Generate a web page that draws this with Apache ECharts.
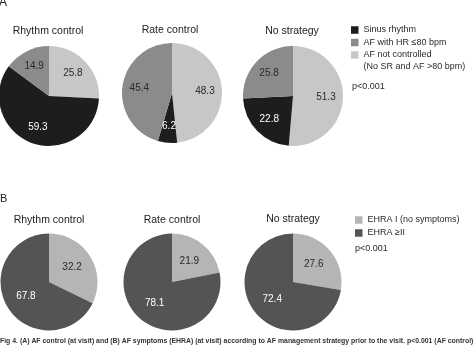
<!DOCTYPE html>
<html>
<head>
<meta charset="utf-8">
<script src="https://cdn.jsdelivr.net/npm/echarts@6/dist/echarts.min.js"></script>
<style>
  html, body { margin: 0; padding: 0; background: #fff; }
  #chart { width: 474px; height: 345px; }
</style>
</head>
<body>
<div id="chart"></div>
<script>
// Management strategy before the visit (one pie per strategy)
const strategies = ['Rhythm control', 'Rate control', 'No strategy'];

// Panel A: AF control at the visit (%), listed clockwise from 12 o'clock
const controlNames = ['AF not controlled', 'Sinus rhythm', 'AF with HR ≤80 bpm'];
const notControlled = [25.8, 48.3, 51.3];
const sinusRhythm = [59.3, 6.2, 22.8];
const rateControlled = [14.9, 45.4, 25.8];
const controlLegendOrder = ['Sinus rhythm', 'AF with HR ≤80 bpm', 'AF not controlled'];

// Panel B: AF symptoms (EHRA class) at the visit (%)
const symptomNames = ['EHRA I (no symptoms)', 'EHRA ≥II'];
const ehraOne = [32.2, 21.9, 27.6];
const ehraTwoPlus = [67.8, 78.1, 72.4];

const pValueText = 'p<0.001';
const captionText = 'Fig 4. (A) AF control (at visit) and (B) AF symptoms (EHRA) (at visit) according to AF management strategy prior to the visit. p<0.001 (AF control)';

// ---- styling ----
const FONT = '"Liberation Sans", Arial, Helvetica, sans-serif';
const sliceColor = {
  'Sinus rhythm': '#1d1d1d',
  'AF with HR ≤80 bpm': '#8b8b8b',
  'AF not controlled': '#c7c7c7',
  'EHRA I (no symptoms)': '#b5b5b5',
  'EHRA ≥II': '#545454'
};
const valueColor = {
  'Sinus rhythm': '#ffffff',
  'AF with HR ≤80 bpm': '#2a2a2a',
  'AF not controlled': '#2a2a2a',
  'EHRA I (no symptoms)': '#2a2a2a',
  'EHRA ≥II': '#ffffff'
};

// pie placement
const pieX = [49, 172, 293];
const pieYA = [96, 93, 96];
const pieYB = [282, 282, 282];
const radiusA = 50;
const radiusB = 48.5;

function buildData(names, columns, i) {
  return names.map((n, k) => ({
    name: n,
    value: columns[k][i],
    itemStyle: { color: sliceColor[n] },
    label: { color: valueColor[n] }
  }));
}

const series = [];
const labelSeries = [];

strategies.forEach((s, i) => {
  const dataA = buildData(controlNames, [notControlled, sinusRhythm, rateControlled], i);
  const dataB = buildData(symptomNames, [ehraOne, ehraTwoPlus], i);

  // visible slices
  series.push({
    type: 'pie', name: s + ' A', center: [pieX[i], pieYA[i]], radius: radiusA,
    startAngle: 90, clockwise: true, silent: true, animation: false,
    emphasis: { disabled: true },
    label: { show: false }, labelLine: { show: false },
    data: dataA
  });
  series.push({
    type: 'pie', name: s + ' B', center: [pieX[i], pieYB[i]], radius: radiusB,
    startAngle: 90, clockwise: true, silent: true, animation: false,
    emphasis: { disabled: true },
    label: { show: true, position: 'inside', formatter: '{c}', fontSize: 10, fontFamily: FONT },
    labelLine: { show: false },
    data: dataB
  });

  // value labels for panel A, set a little further out from the centre
  labelSeries.push({
    type: 'pie', name: s + ' A values', center: [pieX[i], pieYA[i]], radius: radiusA * 1.2,
    startAngle: 90, clockwise: true, silent: true, animation: false,
    emphasis: { disabled: true },
    itemStyle: { color: 'rgba(0,0,0,0)' },
    label: { show: true, position: 'inside', formatter: '{c}', fontSize: 10, fontFamily: FONT },
    labelLine: { show: false },
    data: dataA.map(d => ({ name: d.name, value: d.value, label: d.label, itemStyle: { color: 'rgba(0,0,0,0)' } }))
  });
});

const titleText = (t, x, y) => ({
  type: 'text', x: x, y: y,
  style: { text: t, fill: '#222', font: '10.5px ' + FONT, textAlign: 'center', textVerticalAlign: 'middle' }
});
const plainText = (t, x, y, size, extra) => ({
  type: 'text', x: x, y: y,
  style: Object.assign({ text: t, fill: '#2a2a2a', font: size + 'px ' + FONT, textAlign: 'left', textVerticalAlign: 'middle' }, extra || {})
});

const chart = echarts.init(document.getElementById('chart'), null, { renderer: 'canvas' });
chart.setOption({
  backgroundColor: '#ffffff',
  animation: false,
  legend: [
    {
      orient: 'vertical', left: 351, top: 24, padding: 0,
      icon: 'rect', itemWidth: 7.5, itemHeight: 7.5, itemGap: 0.5,
      selectedMode: false,
      textStyle: { fontSize: 9, lineHeight: 12, color: '#2a2a2a', fontFamily: FONT },
      data: controlLegendOrder.map(n => ({ name: n, itemStyle: { color: sliceColor[n] } }))
    },
    {
      orient: 'vertical', left: 355, top: 214, padding: 0,
      icon: 'rect', itemWidth: 7.5, itemHeight: 7.5, itemGap: 1,
      selectedMode: false,
      textStyle: { fontSize: 9, lineHeight: 12, color: '#2a2a2a', fontFamily: FONT },
      data: symptomNames.map(n => ({ name: n, itemStyle: { color: sliceColor[n] } }))
    }
  ],
  graphic: [
    plainText('A', -1, 3, 12, { fill: '#222' }),
    plainText('B', 0, 199, 11, { fill: '#222' }),
    titleText(strategies[0], 48, 31), titleText(strategies[1], 170, 30), titleText(strategies[2], 292, 31),
    titleText(strategies[0], 49, 220), titleText(strategies[1], 172, 220), titleText(strategies[2], 293, 219),
    plainText('(No SR and AF >80 bpm)', 363.5, 67, 9),
    plainText(pValueText, 352, 87, 9),
    plainText(pValueText, 355, 249, 9),
    plainText(captionText, 0, 341, 6.9, { font: 'bold 6.9px ' + FONT, fill: '#333' })
  ],
  series: series.concat(labelSeries)
});
</script>
</body>
</html>
